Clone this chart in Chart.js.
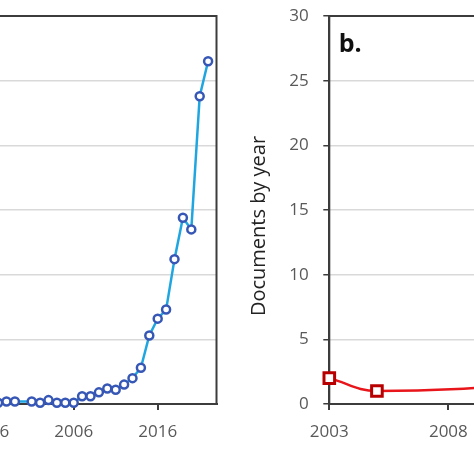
<!DOCTYPE html>
<html>
<head>
<meta charset="utf-8">
<script src="https://cdn.jsdelivr.net/npm/chart.js@4.4.1/dist/chart.umd.min.js"></script>
<style>
  html, body { margin: 0; padding: 0; background: #fff; }
  body { width: 474px; height: 474px; overflow: hidden; position: relative; }
  canvas { position: absolute; top: 0; }
  #chartA { left: -80px; }
  #chartB { left: 237px; }
</style>
</head>
<body>
<canvas id="chartA" width="306" height="474"></canvas>
<canvas id="chartB" width="600" height="474"></canvas>
<script>
// panel a (left, cropped)
const yearsA = [1997, 1998, 1999, 2001, 2002, 2003, 2004, 2005, 2006, 2007, 2008, 2009, 2010,
  2011, 2012, 2013, 2014, 2015, 2016, 2017, 2018, 2019, 2020, 2021, 2022];
const docsA = [1, 2, 2, 2, 1, 3, 1, 1, 1, 6, 6, 9, 12, 11, 15, 20, 28, 53, 66, 73, 112, 144, 135, 238, 265];
const xTicksA = [1996, 2006, 2016];

// panel b (right, cropped)
const yearsB = [2003, 2005, 2015];
const docsB = [2, 1, 2];
const xTicksB = [2003, 2008, 2013, 2018, 2023];
const yTitleB = 'Documents by year';
const letterB = 'b.';

const axisColor = '#3c3c3c';
const gridColor = '#d9d9d9';
const tickColor = '#595959';

Chart.defaults.font.family = "'Open Sans', sans-serif";
Chart.defaults.font.size = 17;
Chart.defaults.color = tickColor;

// dark box round the plot area
const framePlugin = {
  id: 'frame',
  beforeDatasetsDraw(chart) {
    const a = chart.chartArea, ctx = chart.ctx;
    ctx.save();
    ctx.strokeStyle = axisColor;
    ctx.lineWidth = 2;
    ctx.strokeRect(a.left, a.top, a.right - a.left, a.bottom - a.top);
    ctx.restore();
  }
};

const textB = {
  id: 'textB',
  afterDraw(chart) {
    const a = chart.chartArea, ctx = chart.ctx;
    ctx.save();
    ctx.fillStyle = '#111';
    ctx.font = "bold 25px 'Open Sans'";
    ctx.textBaseline = 'alphabetic';
    ctx.fillText(letterB, a.left + 9.5, a.top + 35.5);
    ctx.translate(a.left - 69.8, (a.top + a.bottom) / 2 + 16);
    ctx.rotate(-Math.PI / 2);
    ctx.textAlign = 'center';
    ctx.textBaseline = 'middle';
    ctx.font = "20px 'Open Sans'";
    ctx.fillStyle = '#222';
    ctx.fillText(yTitleB, 0, 0);
    ctx.restore();
  }
};

function xScale(min, max, tickList) {
  return {
    type: 'linear',
    min: min,
    max: max,
    afterBuildTicks: s => { s.ticks = tickList.map(v => ({ value: v })); },
    afterFit: s => { s.height = 70; },
    grid: { drawOnChartArea: false, tickLength: 6, tickColor: axisColor, lineWidth: 2 },
    border: { color: axisColor, width: 2 },
    ticks: { color: tickColor, padding: 12, callback: v => String(v) }
  };
}

function yScale(max, step, width, pad) {
  return {
    min: 0,
    max: max,
    afterFit: s => { s.width = width; s.paddingTop = 0; s.paddingBottom = 0; },
    grid: { color: gridColor, lineWidth: 1.5, tickLength: 6, tickColor: axisColor },
    border: { color: axisColor, width: 2 },
    ticks: { stepSize: step, color: tickColor, padding: pad }
  };
}

new Chart(document.getElementById('chartA'), {
  type: 'line',
  data: {
    datasets: [{
      data: yearsA.map((x, i) => ({ x: x, y: docsA[i] })),
      borderColor: '#1fa6e0',
      borderWidth: 2.5,
      tension: 0,
      pointRadius: 4,
      pointBorderWidth: 2.5,
      pointBackgroundColor: '#fff',
      pointBorderColor: '#3657b5',
      clip: false
    }]
  },
  options: {
    responsive: false,
    animation: false,
    devicePixelRatio: 1,
    layout: { padding: { top: 16, right: 9.5, bottom: 0, left: 0 } },
    plugins: { legend: { display: false }, tooltip: { enabled: false } },
    scales: {
      x: xScale(1996, 2023, xTicksA),
      y: yScale(300, 50, 69.7, 8)
    }
  },
  plugins: [framePlugin]
});

new Chart(document.getElementById('chartB'), {
  type: 'line',
  data: {
    datasets: [{
      data: yearsB.map((x, i) => ({ x: x, y: docsB[i] })),
      borderColor: '#e8161b',
      borderWidth: 2.5,
      tension: 0.4,
      pointStyle: 'rect',
      pointRadius: 7.5,
      pointBorderWidth: 3,
      pointBackgroundColor: '#fff',
      pointBorderColor: '#b80000',
      clip: false
    }]
  },
  options: {
    responsive: false,
    animation: false,
    devicePixelRatio: 1,
    layout: { padding: { top: 16, right: 27.7, bottom: 0, left: 0 } },
    plugins: { legend: { display: false }, tooltip: { enabled: false } },
    scales: {
      x: xScale(2003, 2023, xTicksB),
      y: yScale(30, 5, 92.3, 14.6)
    }
  },
  plugins: [framePlugin, textB]
});
</script>
</body>
</html>
